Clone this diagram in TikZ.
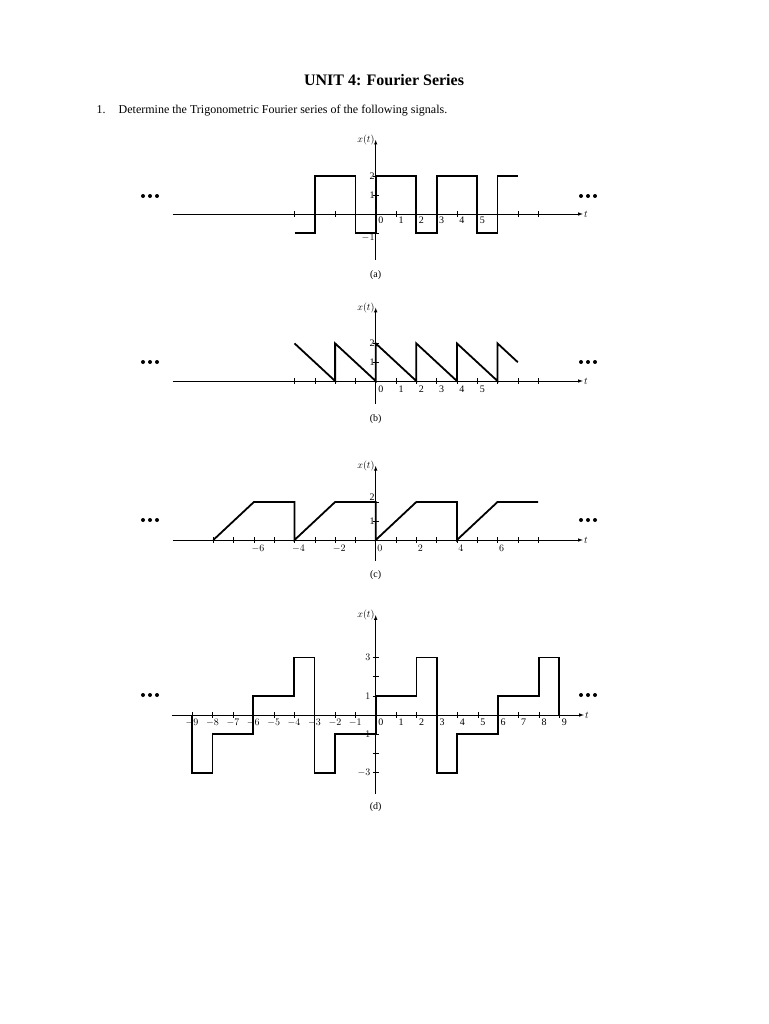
\documentclass[tikz,border=0pt]{standalone}
\usepackage{fontspec}
\setmainfont{Liberation Serif}
\usepackage{tikz}
\usetikzlibrary{arrows,positioning}

\tikzset{
  axis/.style={line width=0.6pt,-latex},
  sig/.style={line width=1.8pt,line join=miter},
  lbl/.style={font=\fontsize{10}{11}\selectfont,inner sep=1pt},
  dotrow/.style={fill=black},
}
\newcommand{\dotsat}[2]{%
  \foreach \k in {0,7,14} \fill[dotrow] (#1+\k,#2) circle (2pt);}

\begin{document}
\begin{tikzpicture}[x=1pt,y=-1pt]
\useasboundingbox[fill=white] (0,0) rectangle (768,1024);
\node[font=\fontsize{16}{18}\selectfont\bfseries] (title) at (384,80) {UNIT 4: Fourier Series};
\node[anchor=west,font=\fontsize{12}{14}\selectfont] (q1) at (93,111) {1.\hspace{1.1em}Determine the Trigonometric Fourier series of the following signals.};

% (a)
\dotsat{143}{196}\dotsat{581}{196}
\begin{scope}[shift={(375.7,214)},x=20.3pt,y=19pt]
  \draw[axis] (-10,0) -- (10.2,0) node[right,lbl] {$t$};
  \draw[axis] (0,-2.4) -- (0,3.9) node[left,lbl] {$x(t)$};
  \foreach \t in {-4,...,-1,1,2,...,8} \draw (\t,-0.15) -- (\t,0.15);
  \foreach \v in {-1,1,2} \draw (-0.15,\v) -- (0.15,\v);
  \node[lbl,left] at (0,2) {2};
  \node[lbl,left] at (0,1) {1};
  \node[lbl,below left] at (0,-1) {$-1$};
  \foreach \t in {0,...,5} \node[lbl,below] at (\t+0.25,-0.1) {\t};
  \draw[sig] (-4,-1) -- (-3,-1) -- (-3,2) -- (-1,2) -- (-1,-1) -- (0,-1) -- (0,2)
    -- (2,2) -- (2,-1) -- (3,-1) -- (3,2) -- (5,2) -- (5,-1) -- (6,-1) -- (6,2) -- (7,2);
  \node[lbl] at (0,-3.2) {(a)};
\end{scope}

% (b)
\dotsat{143}{362}\dotsat{581}{362}
\begin{scope}[shift={(375.7,381)},x=20.3pt,y=18.8pt]
  \draw[axis] (-10,0) -- (10.2,0) node[right,lbl] {$t$};
  \draw[axis] (0,-1.2) -- (0,3.9) node[left,lbl] {$x(t)$};
  \foreach \t in {-4,...,-1,1,2,...,8} \draw (\t,-0.15) -- (\t,0.15);
  \foreach \v in {1,2} \draw (-0.15,\v) -- (0.15,\v);
  \node[lbl,left] at (0,2) {2};
  \node[lbl,left] at (0,1) {1};
  \foreach \t in {0,...,5} \node[lbl,below] at (\t+0.25,-0.2) {\t};
  \draw[sig] (-4,2) -- (-2,0) -- (-2,2) -- (0,0) -- (0,2) -- (2,0) -- (2,2)
    -- (4,0) -- (4,2) -- (6,0) -- (6,2) -- (7,1);
  \node[lbl] at (0,-2) {(b)};
\end{scope}

% (c)
\dotsat{143}{520}\dotsat{581}{520}
\begin{scope}[shift={(375.7,540)},x=20.3pt,y=19pt]
  \draw[axis] (-10,0) -- (10.2,0) node[right,lbl] {$t$};
  \draw[axis] (0,-1.1) -- (0,3.9) node[left,lbl] {$x(t)$};
  \foreach \t in {-8,...,-1,1,2,...,8} \draw (\t,-0.15) -- (\t,0.15);
  \foreach \v in {1,2} \draw (-0.15,\v) -- (0.15,\v);
  \node[lbl,above left] at (0,2) {2};
  \node[lbl,left] at (0,1) {1};
  \foreach \t in {-6,-4,-2,0,2,4,6} \node[lbl,below] at (\t+0.2,-0.2) {$\t$};
  \draw[sig] (-8,0) -- (-6,2) -- (-4,2) -- (-4,0) -- (-2,2) -- (0,2) -- (0,0)
    -- (2,2) -- (4,2) -- (4,0) -- (6,2) -- (8,2);
  \node[lbl] at (0,-1.85) {(c)};
\end{scope}

% (d)
\dotsat{143}{695}\dotsat{581}{695}
\begin{scope}[shift={(375.7,715)},x=20.4pt,y=19.2pt]
  \draw[axis] (-10,0) -- (10.2,0) node[right,lbl] {$t$};
  \draw[axis] (0,-4.1) -- (0,5.2) node[left,lbl] {$x(t)$};
  \foreach \t in {-9,...,-1,1,2,...,9} \draw (\t,-0.15) -- (\t,0.15);
  \foreach \v in {-3,-2,-1,1,2,3} \draw (-0.15,\v) -- (0.15,\v);
  \foreach \v in {-3,-1,1,3} \node[lbl,left] at (-0.2,\v) {$\v$};
  \foreach \t in {-9,...,-1} \node[lbl,below] at (\t,-0.15) {$\t$};
  \foreach \t in {0,...,9} \node[lbl,below] at (\t+0.25,-0.15) {\t};
  \draw[sig] (-9,0) -- (-9,-3) -- (-8,-3) -- (-8,-1) -- (-6,-1) -- (-6,1) -- (-4,1)
    -- (-4,3) -- (-3,3) -- (-3,-3) -- (-2,-3) -- (-2,-1) -- (0,-1) -- (0,1) -- (2,1)
    -- (2,3) -- (3,3) -- (3,-3) -- (4,-3) -- (4,-1) -- (6,-1) -- (6,1) -- (8,1)
    -- (8,3) -- (9,3) -- (9,0);
  \node[lbl] at (0,-4.8) {(d)};
\end{scope}
\end{tikzpicture}
\end{document}
